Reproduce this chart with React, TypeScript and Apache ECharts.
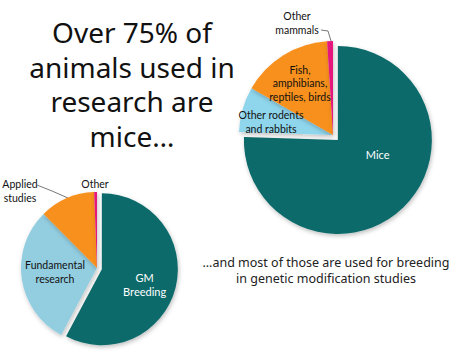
import React, { useEffect, useRef } from "react";
import * as echarts from "echarts";

const animalCategories = ["Mice", "Other rodents\nand rabbits", "Fish,\namphibians,\nreptiles, birds", "Other\nmammals"];
const animalValues = [75.5, 7.8, 15.7, 1.0];
const useCategories = ["GM\nBreeding", "Fundamental\nresearch", "Applied\nstudies", "Other"];
const useValues = [57.8, 29.8, 11.8, 0.6];

const titleText = "Over 75% of\nanimals used in\nresearch are\nmice…";
const noteText = "…and most of those are used for breeding\nin genetic modification studies";

const TEAL = "#0c6a6a";
const ORANGE = "#f7901e";
const PINK = "#e5177b";

// label positions (layout)
const bigLabelPos = [
  { x: 377, y: 157 },
  { x: 271, y: 122 },
  { x: 300, y: 83 },
  { x: 297, y: 23 },
];
const smallLabelPos = [
  { x: 144, y: 285 },
  { x: 55, y: 272 },
  { x: 20, y: 191 },
  { x: 95, y: 184 },
];

export default function App() {
  const ref = useRef<HTMLDivElement>(null);
  useEffect(() => {
    if (!ref.current) return;
    const chart = echarts.init(ref.current, null, { renderer: "svg" });
    const labelFont = { fontFamily: "Lato", fontSize: 10.5, lineHeight: 13.5 };
    const shadow = { shadowBlur: 4, shadowColor: "rgba(0,0,0,0.25)", shadowOffsetY: 2, shadowOffsetX: 1 };
    const bigColors = [TEAL, "#8fd5ec", ORANGE, PINK];
    const smallColors = [TEAL, "#93cde0", ORANGE, PINK];
    const whiteRich = {
      t: { fontFamily: "Lato", fontSize: 11, lineHeight: 14, color: "#fff", align: "center" },
      gapBig: { fontSize: 1, lineHeight: 42 },
      gapSmall: { fontSize: 1, lineHeight: 11 },
    };
    chart.setOption({
      animation: false,
      title: [
        {
          text: titleText,
          left: 132,
          top: 15,
          padding: 0,
          textAlign: "center",
          textStyle: { fontFamily: "Noto Sans", fontSize: 28, fontWeight: "normal", lineHeight: 34.5, color: "#111" },
        },
        {
          text: noteText,
          left: 326,
          top: 255,
          padding: 0,
          textAlign: "center",
          textStyle: { fontFamily: "Noto Sans", fontSize: 12.5, fontWeight: "normal", lineHeight: 15.4, color: "#222" },
        },
      ],
      series: [
        {
          type: "pie",
          center: [333, 135],
          radius: 94,
          startAngle: 90,
          clockwise: true,
          selectedMode: "single",
          selectedOffset: 7,
          avoidLabelOverlap: false,
          emphasis: { disabled: true },
          itemStyle: { ...shadow },
          label: { ...labelFont, color: "#111", align: "center" },
          data: animalCategories.map((name, i) => ({
            name,
            value: animalValues[i],
            selected: i === 0,
            itemStyle: { color: bigColors[i] },
            label: i === 0
              ? {
                  show: true,
                  position: "inside",
                  formatter: (p: any) => `{t|${p.name}}\n{gapBig| }`,
                  rich: whiteRich,
                  padding: [0, 0, 0, 10],
                }
              : {
                  show: true,
                  position: i === 3 ? "outside" : "inside",
                  formatter: "{b}",
                  color: "#111",
                },
            labelLine: { show: i === 3, lineStyle: { color: "#555", width: 0.8 } },
          })),
          labelLayout: (p: any) => {
            if (p.dataIndex === 0) return {};
            const pos = bigLabelPos[p.dataIndex];
            const r: any = { x: pos.x, y: pos.y, align: "center", verticalAlign: "middle" };
            if (p.dataIndex === 3) r.labelLinePoints = [[321, 30], [328, 31], [331, 41]];
            return r;
          },
        },
        {
          type: "pie",
          center: [97, 268],
          radius: 76,
          startAngle: 90,
          clockwise: true,
          selectedMode: "single",
          selectedOffset: 5,
          avoidLabelOverlap: false,
          emphasis: { disabled: true },
          itemStyle: { ...shadow },
          label: { ...labelFont, color: "#111", align: "center" },
          data: useCategories.map((name, i) => ({
            name,
            value: useValues[i],
            selected: i === 0,
            itemStyle: { color: smallColors[i] },
            label: i === 0
              ? {
                  show: true,
                  position: "inside",
                  formatter: (p: any) =>
                    `{gapSmall| }\n` + p.name.split("\n").map((s: string) => `{t|${s}}`).join("\n"),
                  rich: whiteRich,
                  padding: [0, 0, 0, 6],
                }
              : {
                  show: true,
                  position: i >= 2 ? "outside" : "inside",
                  formatter: "{b}",
                  color: "#111",
                },
            labelLine: { show: i === 2, lineStyle: { color: "#555", width: 0.8 } },
          })),
          labelLayout: (p: any) => {
            if (p.dataIndex === 0) return {};
            const pos = smallLabelPos[p.dataIndex];
            const r: any = { x: pos.x, y: pos.y, align: "center", verticalAlign: "middle" };
            if (p.dataIndex === 2) r.labelLinePoints = [[37, 185], [52, 191], [68, 198]];
            return r;
          },
        },
      ],
    });
    return () => chart.dispose();
  }, []);
  return (
    <div
      ref={ref}
      style={{ position: "fixed", left: 0, top: 0, width: 474, height: 355, background: "#fff" }}
    />
  );
}
